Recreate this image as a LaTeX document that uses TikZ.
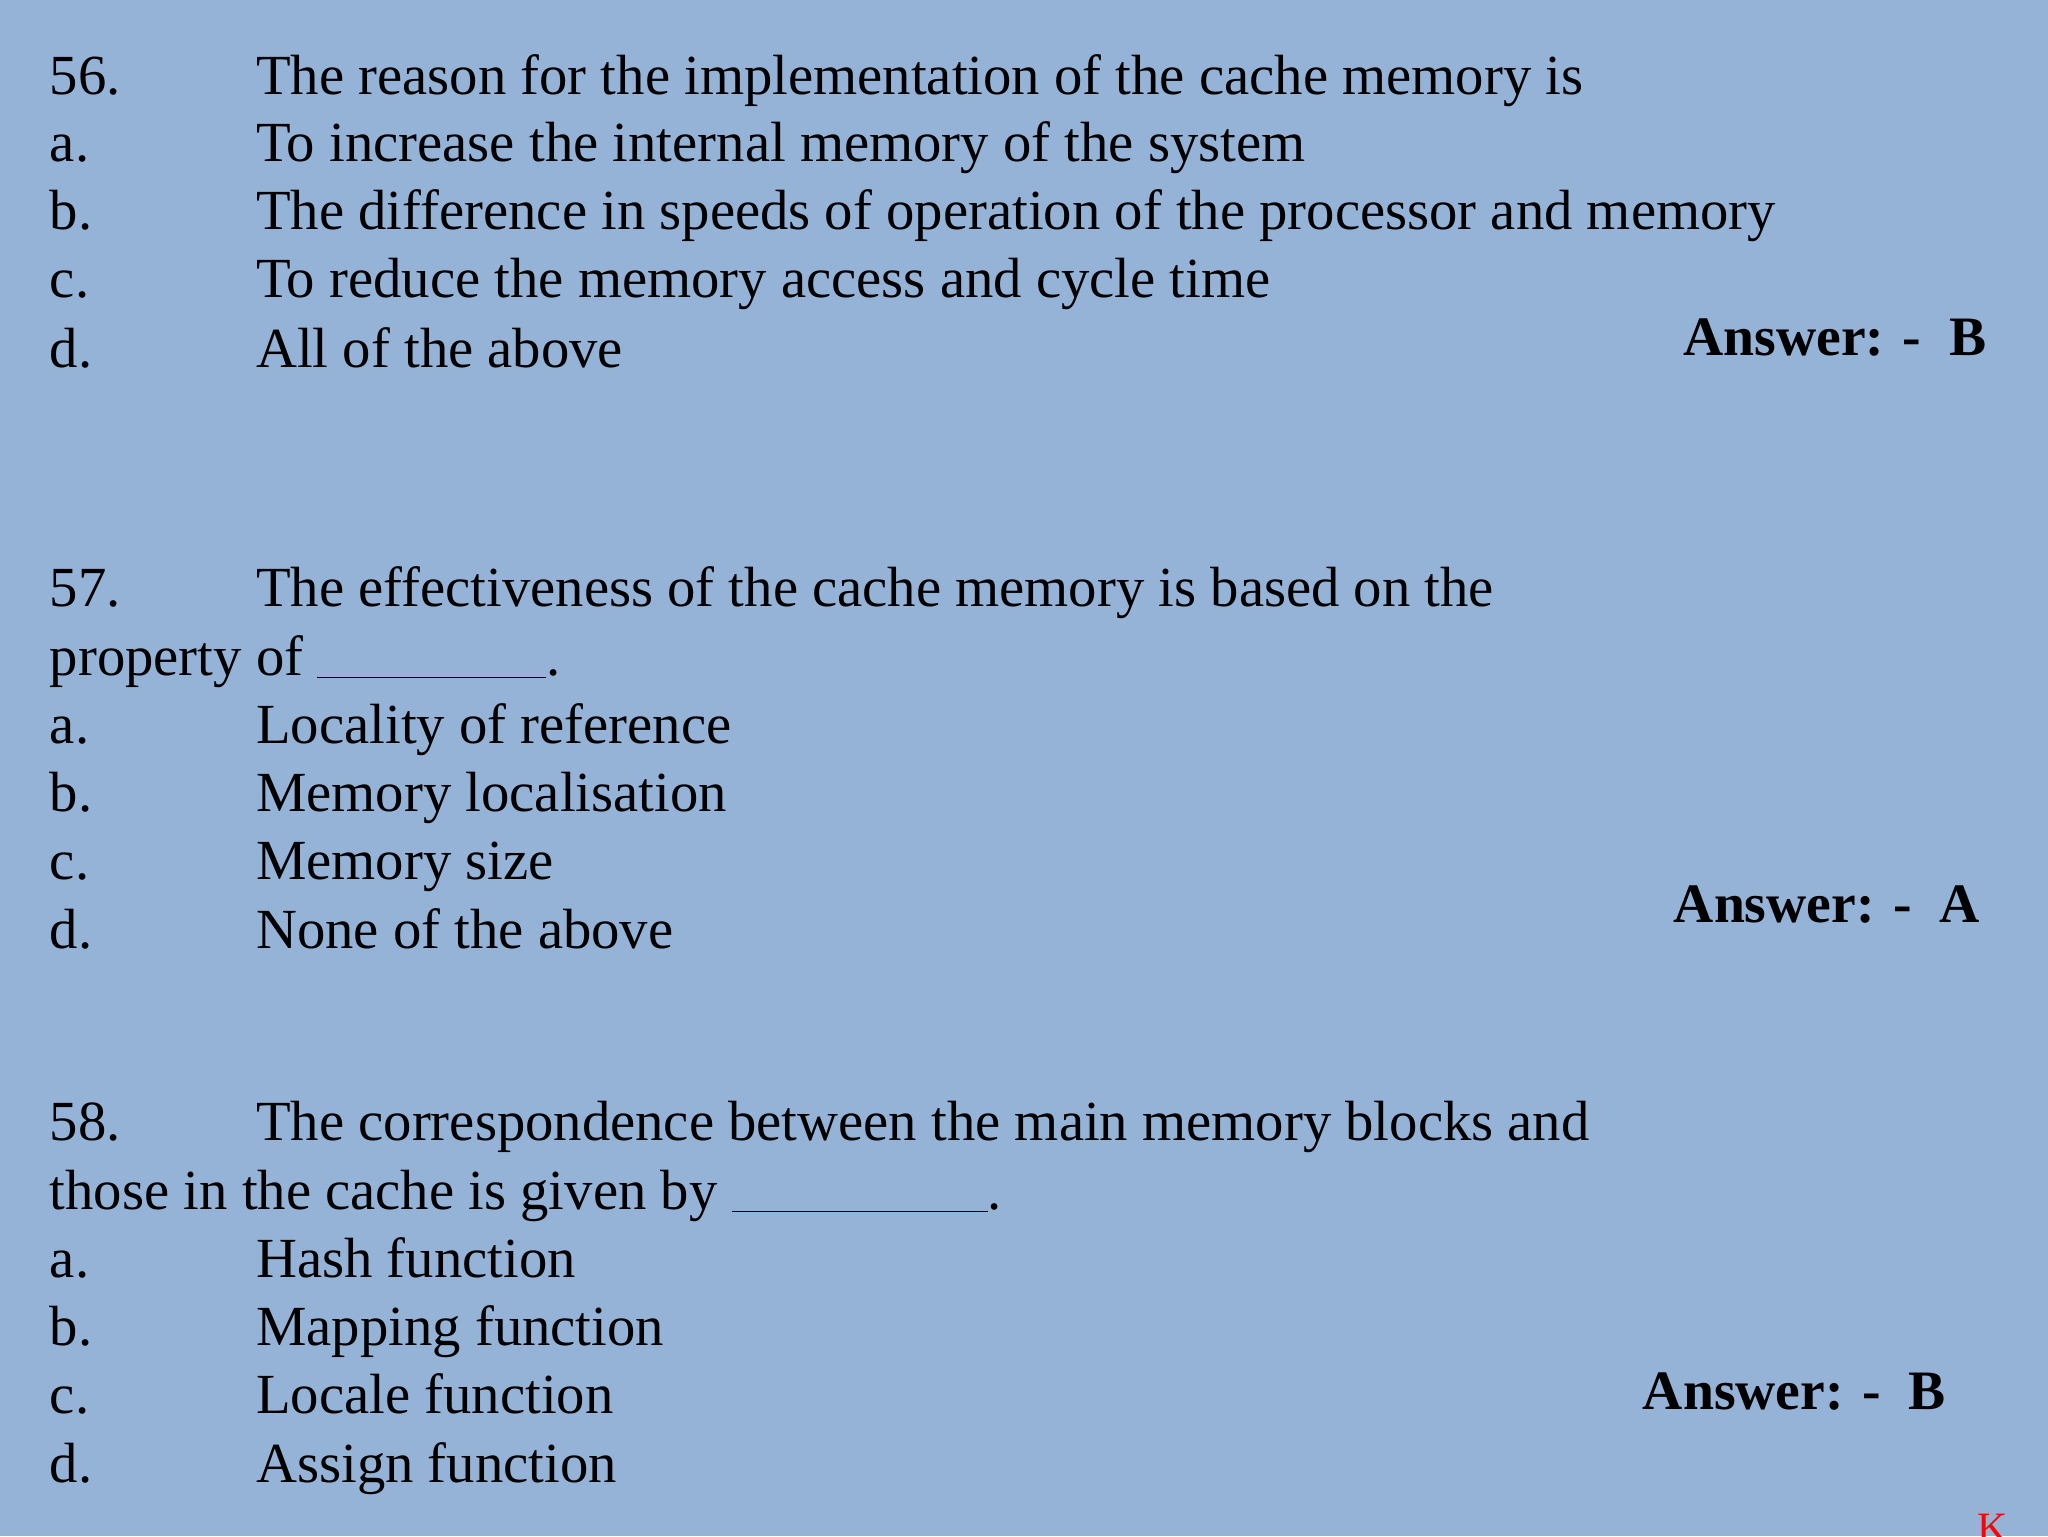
\documentclass[tikz,border=0pt]{standalone}
\usepackage{fontspec}
\setmainfont{Liberation Serif}
\definecolor{bg}{HTML}{95B3D7}
\begin{document}
\begin{tikzpicture}[x=1pt,y=-1pt,
  t/.style={anchor=base west,inner sep=0pt,font=\fontsize{43.4}{50}\selectfont},
  ans/.style={anchor=base east,inner sep=0pt,font=\fontsize{42.6}{50}\selectfont\bfseries}]
\fill[bg] (0,0) rectangle (1568,1176);
\useasboundingbox (0,0) rectangle (1568,1176);
% Q56
\node[t] (q56n) at (38,72) {56.};
\node[t] (q56) at (196,72) {The reason for the implementation of the cache memory is};
\node[t] (a1l) at (38,124) {a.}; \node[t] (a1) at (196,124) {To increase the internal memory of the system};
\node[t] (b1l) at (38,176) {b.}; \node[t] (b1) at (196,176) {The difference in speeds of operation of the processor and memory};
\node[t] (c1l) at (38,228) {c.}; \node[t] (c1) at (196,228) {To reduce the memory access and cycle time};
\node[t] (d1l) at (38,281) {d.}; \node[t] (d1) at (196,281) {All of the above};
\node[ans] (ans1) at (1521,272) {Answer: -\ \ B};
% Q57
\node[t] (q57n) at (38,464) {57.};
\node[t] (q57) at (196,464) {The effectiveness of the cache memory is based on the};
\node[t] (q57b) at (38,517) {property of \underline{\hspace{175pt}}.};
\node[t] (a2l) at (38,569) {a.}; \node[t] (a2) at (196,569) {Locality of reference};
\node[t] (b2l) at (38,621) {b.}; \node[t] (b2) at (196,621) {Memory localisation};
\node[t] (c2l) at (38,673) {c.}; \node[t] (c2) at (196,673) {Memory size};
\node[t] (d2l) at (38,726) {d.}; \node[t] (d2) at (196,726) {None of the above};
\node[ans] (ans2) at (1516,706) {Answer: -\ \ A};
% Q58
\node[t] (q58n) at (38,873) {58.};
\node[t] (q58) at (196,873) {The correspondence between the main memory blocks and};
\node[t] (q58b) at (38,926) {those in the cache is given by \underline{\hspace{196pt}}.};
\node[t] (a3l) at (38,978) {a.}; \node[t] (a3) at (196,978) {Hash function};
\node[t] (b3l) at (38,1030) {b.}; \node[t] (b3) at (196,1030) {Mapping function};
\node[t] (c3l) at (38,1082) {c.}; \node[t] (c3) at (196,1082) {Locale function};
\node[t] (d3l) at (38,1135) {d.}; \node[t] (d3) at (196,1135) {Assign function};
\node[ans] (ans3) at (1490,1079) {Answer: -\ \ B};
\node[t,text=red,font=\fontsize{32}{36}\selectfont] (k) at (1514,1180) {K};
\end{tikzpicture}
\end{document}
